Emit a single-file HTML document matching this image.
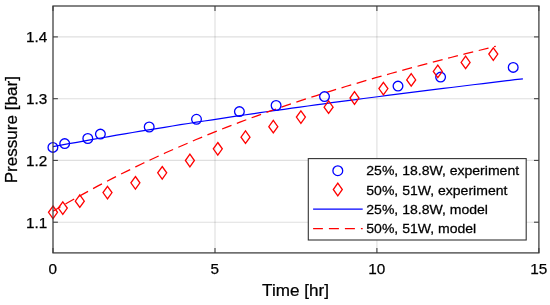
<!DOCTYPE html><html><head><meta charset="utf-8"><title>Pressure plot</title><style>html,body{margin:0;padding:0;background:#fff}svg{display:block}text{font-family:"Liberation Sans",Arial,Helvetica,sans-serif;fill:#000;stroke:#000;stroke-width:0.25px}</style></head><body>
<svg width="550" height="305" viewBox="0 0 550 305">
<rect width="550" height="305" fill="#fff"/>
<line x1="215.0" y1="6.0" x2="215.0" y2="252.9" stroke="#000" stroke-opacity="0.125" stroke-width="1.15"/>
<line x1="376.9" y1="6.0" x2="376.9" y2="252.9" stroke="#000" stroke-opacity="0.125" stroke-width="1.15"/>
<line x1="53.0" y1="222.2" x2="538.9" y2="222.2" stroke="#000" stroke-opacity="0.125" stroke-width="1.15"/>
<line x1="53.0" y1="160.4" x2="538.9" y2="160.4" stroke="#000" stroke-opacity="0.125" stroke-width="1.15"/>
<line x1="53.0" y1="98.7" x2="538.9" y2="98.7" stroke="#000" stroke-opacity="0.125" stroke-width="1.15"/>
<line x1="53.0" y1="36.9" x2="538.9" y2="36.9" stroke="#000" stroke-opacity="0.125" stroke-width="1.15"/>
<polyline points="53.0,146.7 61.0,145.2 68.9,143.7 76.9,142.3 84.9,140.8 92.8,139.4 100.8,138.0 108.8,136.6 116.7,135.2 124.7,133.9 132.6,132.5 140.6,131.2 148.6,129.9 156.5,128.6 164.5,127.3 172.5,126.0 180.4,124.7 188.4,123.5 196.4,122.2 204.3,121.0 212.3,119.8 220.3,118.6 228.2,117.4 236.2,116.2 244.1,115.0 252.1,113.8 260.1,112.7 268.0,111.5 276.0,110.4 284.0,109.3 291.9,108.2 299.9,107.1 307.9,106.0 315.8,104.9 323.8,103.8 331.8,102.7 339.7,101.7 347.7,100.6 355.6,99.6 363.6,98.5 371.6,97.5 379.5,96.5 387.5,95.4 395.5,94.4 403.4,93.4 411.4,92.4 419.4,91.4 427.3,90.4 435.3,89.4 443.3,88.4 451.2,87.5 459.2,86.5 467.1,85.5 475.1,84.5 483.1,83.6 491.0,82.6 499.0,81.6 507.0,80.7 514.9,79.7 522.9,78.8" fill="none" stroke="#0000ff" stroke-width="1.25"/>
<polyline points="53.0,211.2 60.5,206.8 68.0,202.5 75.5,198.2 83.0,194.1 90.5,190.0 98.0,185.9 105.5,182.0 113.0,178.1 120.5,174.3 128.1,170.6 135.6,166.9 143.1,163.3 150.6,159.7 158.1,156.3 165.6,152.8 173.1,149.5 180.6,146.2 188.1,143.0 195.6,139.8 203.1,136.7 210.6,133.6 218.1,130.6 225.6,127.6 233.1,124.7 240.6,121.9 248.1,119.1 255.6,116.3 263.1,113.6 270.6,110.9 278.2,108.3 285.7,105.7 293.2,103.2 300.7,100.7 308.2,98.2 315.7,95.8 323.2,93.4 330.7,91.1 338.2,88.8 345.7,86.5 353.2,84.3 360.7,82.1 368.2,79.9 375.7,77.7 383.2,75.6 390.7,73.5 398.2,71.4 405.7,69.4 413.2,67.4 420.7,65.4 428.3,63.4 435.8,61.4 443.3,59.5 450.8,57.5 458.3,55.6 465.8,53.7 473.3,51.8 480.8,50.0 488.3,48.1 495.8,46.3" fill="none" stroke="#ff0000" stroke-width="1.25" stroke-dasharray="10.1 5.7" stroke-dashoffset="1.4"/>
<circle cx="52.9" cy="147.4" r="4.85" fill="none" stroke="#0000ff" stroke-width="1.3"/>
<circle cx="64.7" cy="143.6" r="4.85" fill="none" stroke="#0000ff" stroke-width="1.3"/>
<circle cx="87.8" cy="138.5" r="4.85" fill="none" stroke="#0000ff" stroke-width="1.3"/>
<circle cx="100.4" cy="134.1" r="4.85" fill="none" stroke="#0000ff" stroke-width="1.3"/>
<circle cx="149.2" cy="127.0" r="4.85" fill="none" stroke="#0000ff" stroke-width="1.3"/>
<circle cx="196.5" cy="119.3" r="4.85" fill="none" stroke="#0000ff" stroke-width="1.3"/>
<circle cx="239.4" cy="111.6" r="4.85" fill="none" stroke="#0000ff" stroke-width="1.3"/>
<circle cx="276.1" cy="105.5" r="4.85" fill="none" stroke="#0000ff" stroke-width="1.3"/>
<circle cx="324.5" cy="96.6" r="4.85" fill="none" stroke="#0000ff" stroke-width="1.3"/>
<circle cx="398.0" cy="86.1" r="4.85" fill="none" stroke="#0000ff" stroke-width="1.3"/>
<circle cx="440.6" cy="77.1" r="4.85" fill="none" stroke="#0000ff" stroke-width="1.3"/>
<circle cx="513.2" cy="67.4" r="4.85" fill="none" stroke="#0000ff" stroke-width="1.3"/>
<path d="M53.0 206.0L57.5 212.3L53.0 218.6L48.5 212.3Z" fill="none" stroke="#ff0000" stroke-width="1.3"/>
<path d="M62.8 201.8L67.3 208.1L62.8 214.4L58.3 208.1Z" fill="none" stroke="#ff0000" stroke-width="1.3"/>
<path d="M79.8 194.9L84.3 201.2L79.8 207.5L75.3 201.2Z" fill="none" stroke="#ff0000" stroke-width="1.3"/>
<path d="M107.5 186.3L112.0 192.6L107.5 198.9L103.0 192.6Z" fill="none" stroke="#ff0000" stroke-width="1.3"/>
<path d="M135.4 176.5L139.9 182.8L135.4 189.1L130.9 182.8Z" fill="none" stroke="#ff0000" stroke-width="1.3"/>
<path d="M162.2 166.5L166.7 172.8L162.2 179.1L157.7 172.8Z" fill="none" stroke="#ff0000" stroke-width="1.3"/>
<path d="M189.9 154.2L194.4 160.5L189.9 166.8L185.4 160.5Z" fill="none" stroke="#ff0000" stroke-width="1.3"/>
<path d="M217.8 142.5L222.3 148.8L217.8 155.1L213.3 148.8Z" fill="none" stroke="#ff0000" stroke-width="1.3"/>
<path d="M245.5 130.9L250.0 137.2L245.5 143.5L241.0 137.2Z" fill="none" stroke="#ff0000" stroke-width="1.3"/>
<path d="M273.3 120.4L277.8 126.7L273.3 133.0L268.8 126.7Z" fill="none" stroke="#ff0000" stroke-width="1.3"/>
<path d="M300.9 110.8L305.4 117.1L300.9 123.4L296.4 117.1Z" fill="none" stroke="#ff0000" stroke-width="1.3"/>
<path d="M328.6 100.9L333.1 107.2L328.6 113.5L324.1 107.2Z" fill="none" stroke="#ff0000" stroke-width="1.3"/>
<path d="M354.5 91.7L359.0 98.0L354.5 104.3L350.0 98.0Z" fill="none" stroke="#ff0000" stroke-width="1.3"/>
<path d="M383.4 82.3L387.9 88.6L383.4 94.9L378.9 88.6Z" fill="none" stroke="#ff0000" stroke-width="1.3"/>
<path d="M411.2 73.6L415.7 79.9L411.2 86.2L406.7 79.9Z" fill="none" stroke="#ff0000" stroke-width="1.3"/>
<path d="M437.8 65.1L442.3 71.4L437.8 77.7L433.3 71.4Z" fill="none" stroke="#ff0000" stroke-width="1.3"/>
<path d="M465.6 56.1L470.1 62.4L465.6 68.7L461.1 62.4Z" fill="none" stroke="#ff0000" stroke-width="1.3"/>
<path d="M493.3 47.8L497.8 54.1L493.3 60.4L488.8 54.1Z" fill="none" stroke="#ff0000" stroke-width="1.3"/>
<line x1="53.0" y1="252.9" x2="53.0" y2="248.0" stroke="#3a3a3a" stroke-width="1.05"/>
<line x1="53.0" y1="6.0" x2="53.0" y2="10.9" stroke="#3a3a3a" stroke-width="1.05"/>
<line x1="215.0" y1="252.9" x2="215.0" y2="248.0" stroke="#3a3a3a" stroke-width="1.05"/>
<line x1="215.0" y1="6.0" x2="215.0" y2="10.9" stroke="#3a3a3a" stroke-width="1.05"/>
<line x1="376.9" y1="252.9" x2="376.9" y2="248.0" stroke="#3a3a3a" stroke-width="1.05"/>
<line x1="376.9" y1="6.0" x2="376.9" y2="10.9" stroke="#3a3a3a" stroke-width="1.05"/>
<line x1="538.9" y1="252.9" x2="538.9" y2="248.0" stroke="#3a3a3a" stroke-width="1.05"/>
<line x1="538.9" y1="6.0" x2="538.9" y2="10.9" stroke="#3a3a3a" stroke-width="1.05"/>
<line x1="53.0" y1="222.2" x2="57.9" y2="222.2" stroke="#3a3a3a" stroke-width="1.05"/>
<line x1="538.9" y1="222.2" x2="534.0" y2="222.2" stroke="#3a3a3a" stroke-width="1.05"/>
<line x1="53.0" y1="160.4" x2="57.9" y2="160.4" stroke="#3a3a3a" stroke-width="1.05"/>
<line x1="538.9" y1="160.4" x2="534.0" y2="160.4" stroke="#3a3a3a" stroke-width="1.05"/>
<line x1="53.0" y1="98.7" x2="57.9" y2="98.7" stroke="#3a3a3a" stroke-width="1.05"/>
<line x1="538.9" y1="98.7" x2="534.0" y2="98.7" stroke="#3a3a3a" stroke-width="1.05"/>
<line x1="53.0" y1="36.9" x2="57.9" y2="36.9" stroke="#3a3a3a" stroke-width="1.05"/>
<line x1="538.9" y1="36.9" x2="534.0" y2="36.9" stroke="#3a3a3a" stroke-width="1.05"/>
<rect x="53.0" y="6.0" width="485.9" height="246.9" fill="none" stroke="#3a3a3a" stroke-width="1.25"/>
<text transform="translate(52.8,274.0) scale(1.0,1)" font-size="15.3" text-anchor="middle">0</text>
<text transform="translate(214.8,274.0) scale(1.0,1)" font-size="15.3" text-anchor="middle">5</text>
<text transform="translate(376.7,274.0) scale(1.0,1)" font-size="15.3" text-anchor="middle">10</text>
<text transform="translate(538.7,274.0) scale(1.0,1)" font-size="15.3" text-anchor="middle">15</text>
<text transform="translate(47.2,227.6) scale(1.0,1)" font-size="15.3" text-anchor="end">1.1</text>
<text transform="translate(47.2,165.8) scale(1.0,1)" font-size="15.3" text-anchor="end">1.2</text>
<text transform="translate(47.2,104.1) scale(1.0,1)" font-size="15.3" text-anchor="end">1.3</text>
<text transform="translate(47.2,42.3) scale(1.0,1)" font-size="15.3" text-anchor="end">1.4</text>
<text transform="translate(295.5,296.0) scale(1.075,1)" font-size="15.9" text-anchor="middle">Time [hr]</text>
<text transform="translate(16.8,129.7) rotate(-90) scale(1.055,1)" font-size="16.2" text-anchor="middle">Pressure [bar]</text>
<rect x="308.3" y="158.6" width="217.9" height="81.4" fill="#fff" stroke="#333" stroke-width="1.1"/>
<circle cx="337.8" cy="170.7" r="4.9" fill="none" stroke="#0000ff" stroke-width="1.3"/>
<path d="M337.8 183.2L342.3 189.5L337.8 195.8L333.3 189.5Z" fill="none" stroke="#ff0000" stroke-width="1.3"/>
<line x1="313.1" y1="209" x2="362.7" y2="209" stroke="#0000ff" stroke-width="1.25"/>
<line x1="313.1" y1="228.5" x2="362.7" y2="228.5" stroke="#ff0000" stroke-width="1.25" stroke-dasharray="10 6" stroke-dashoffset="0.2"/>
<text transform="translate(366.3,175.3) scale(1.056,1)" font-size="13.3" text-anchor="start">25%, 18.8W, experiment</text>
<text transform="translate(366.3,194.7) scale(1.056,1)" font-size="13.3" text-anchor="start">50%, 51W, experiment</text>
<text transform="translate(366.3,213.8) scale(1.056,1)" font-size="13.3" text-anchor="start">25%, 18.8W, model</text>
<text transform="translate(366.3,233.2) scale(1.056,1)" font-size="13.3" text-anchor="start">50%, 51W, model</text>
</svg></body></html>
